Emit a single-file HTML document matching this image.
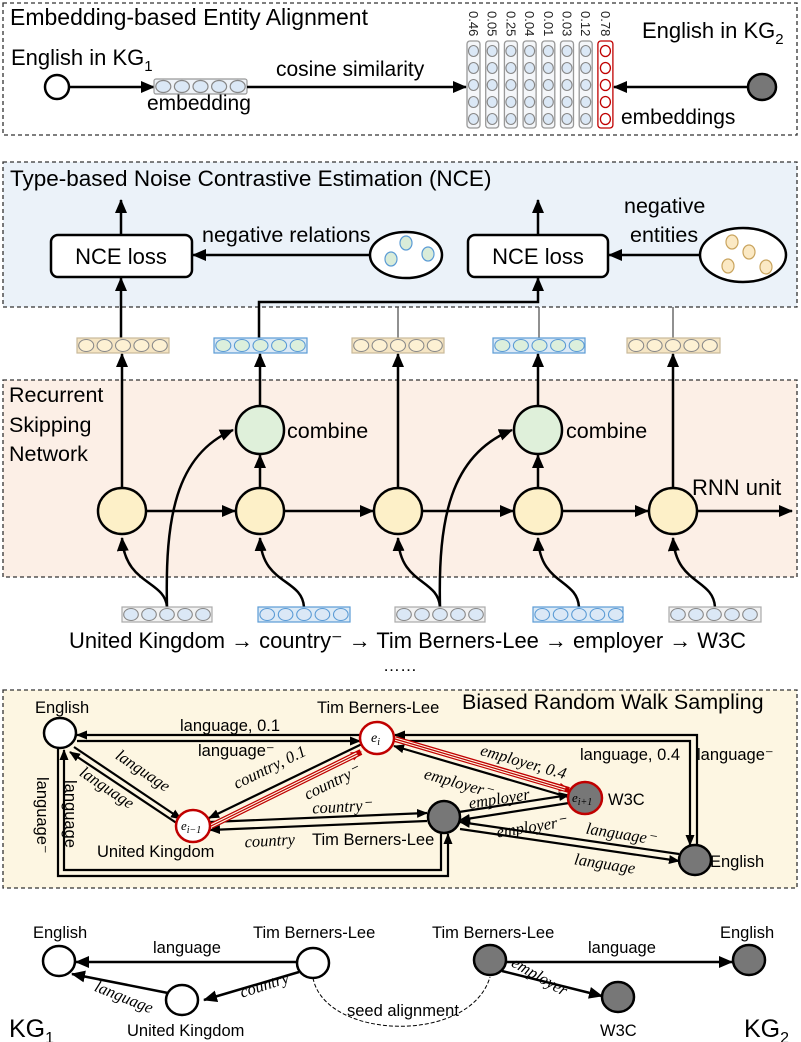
<!DOCTYPE html>
<html><head><meta charset="utf-8"><style>
html,body{margin:0;padding:0;background:#fff;}
svg{display:block;font-family:"Liberation Sans",sans-serif;}
.it{font-family:"Liberation Serif",serif;font-style:italic;}
</style></head><body>
<svg width="801" height="1042" viewBox="0 0 801 1042" xmlns="http://www.w3.org/2000/svg">
<defs>
<marker id="a" markerWidth="14" markerHeight="12" refX="13" refY="6" orient="auto" markerUnits="userSpaceOnUse"><path d="M0,0L14,6L0,12z" fill="#000"/></marker>
<marker id="s" markerWidth="11" markerHeight="9" refX="10" refY="4.5" orient="auto" markerUnits="userSpaceOnUse"><path d="M0,0L11,4.5L0,9z" fill="#000"/></marker>
<marker id="r" markerWidth="11" markerHeight="9" refX="10" refY="4.5" orient="auto" markerUnits="userSpaceOnUse"><path d="M0,0L11,4.5L0,9z" fill="#c00000"/></marker>
</defs>

<rect x="3" y="3" width="794" height="132" fill="#fff" stroke="#333" stroke-width="1.3" stroke-dasharray="4,3"/>
<text x="10" y="25" font-size="23">Embedding-based Entity Alignment</text>
<text x="11" y="65" font-size="22">English in KG<tspan font-size="15" dy="6">1</tspan></text>
<ellipse cx="57" cy="87" rx="12" ry="12" fill="#fff" stroke="#000" stroke-width="2.5"/>
<line x1="69" y1="87" x2="154" y2="87" stroke="#000" stroke-width="2.5" marker-end="url(#a)"/>
<rect x="154" y="79" width="93" height="15" rx="2" fill="#eef2f7" stroke="#999" stroke-width="1.2"/>
<g fill="#dbe8f6" stroke="#888" stroke-width="1.2">
<ellipse cx="163.3" cy="86.5" rx="7.5" ry="6"/><ellipse cx="181.9" cy="86.5" rx="7.5" ry="6"/><ellipse cx="200.5" cy="86.5" rx="7.5" ry="6"/><ellipse cx="219.1" cy="86.5" rx="7.5" ry="6"/><ellipse cx="237.7" cy="86.5" rx="7.5" ry="6"/>
</g>
<text x="147" y="110" font-size="21">embedding</text>
<line x1="247" y1="87" x2="466" y2="87" stroke="#000" stroke-width="2.5" marker-end="url(#a)"/>
<text x="276" y="76" font-size="21">cosine similarity</text>
<g stroke-width="1.3">
<g fill="#f4f6f9" stroke="#999">
<rect x="467" y="41" width="13" height="87" rx="3"/><rect x="485.7" y="41" width="13" height="87" rx="3"/><rect x="504.4" y="41" width="13" height="87" rx="3"/><rect x="523.1" y="41" width="13" height="87" rx="3"/><rect x="541.8" y="41" width="13" height="87" rx="3"/><rect x="560.5" y="41" width="13" height="87" rx="3"/><rect x="579.2" y="41" width="13" height="87" rx="3"/>
</g>
<rect x="597.9" y="41" width="15" height="87" rx="3" fill="#fff" stroke="#c00000"/>
</g>
<g id="colc" fill="#dbe8f6" stroke="#888" stroke-width="1.1">
<ellipse cx="473.5" cy="51" rx="5" ry="5.5"/><ellipse cx="473.5" cy="68" rx="5" ry="5.5"/><ellipse cx="473.5" cy="85" rx="5" ry="5.5"/><ellipse cx="473.5" cy="102" rx="5" ry="5.5"/><ellipse cx="473.5" cy="119" rx="5" ry="5.5"/>
</g>
<use href="#colc" x="18.7"/><use href="#colc" x="37.4"/><use href="#colc" x="56.1"/><use href="#colc" x="74.8"/><use href="#colc" x="93.5"/><use href="#colc" x="112.2"/>
<g fill="#fff" stroke="#c00000" stroke-width="1.3">
<ellipse cx="605.4" cy="51" rx="5" ry="5.5"/><ellipse cx="605.4" cy="68" rx="5" ry="5.5"/><ellipse cx="605.4" cy="85" rx="5" ry="5.5"/><ellipse cx="605.4" cy="102" rx="5" ry="5.5"/><ellipse cx="605.4" cy="119" rx="5" ry="5.5"/>
</g>
<g font-size="13" fill="#222">
<text transform="translate(469,11) rotate(90)">0.46</text>
<text transform="translate(487.7,11) rotate(90)">0.05</text>
<text transform="translate(506.4,11) rotate(90)">0.25</text>
<text transform="translate(525.1,11) rotate(90)">0.04</text>
<text transform="translate(543.8,11) rotate(90)">0.01</text>
<text transform="translate(562.5,11) rotate(90)">0.03</text>
<text transform="translate(581.2,11) rotate(90)">0.12</text>
<text transform="translate(600.9,11) rotate(90)">0.78</text>
</g>
<text x="642" y="38" font-size="22">English in KG<tspan font-size="15" dy="6">2</tspan></text>
<ellipse cx="762" cy="87" rx="14" ry="13" fill="#777" stroke="#000" stroke-width="2.5"/>
<line x1="748" y1="87" x2="614" y2="87" stroke="#000" stroke-width="2.5" marker-end="url(#a)"/>
<text x="621" y="124" font-size="21">embeddings</text>

<rect x="3" y="162" width="794" height="145" fill="#ebf2f9" stroke="#333" stroke-width="1.3" stroke-dasharray="4,3"/>
<text x="10" y="186" font-size="22.5">Type-based Noise Contrastive Estimation (NCE)</text>
<rect x="51" y="235" width="141" height="42" rx="7" fill="#fff" stroke="#000" stroke-width="2.5"/>
<text x="121" y="264" font-size="22" text-anchor="middle">NCE loss</text>
<rect x="468" y="235" width="140" height="42" rx="7" fill="#fff" stroke="#000" stroke-width="2.5"/>
<text x="538" y="264" font-size="22" text-anchor="middle">NCE loss</text>
<line x1="121" y1="235" x2="121" y2="200" stroke="#000" stroke-width="2.5" marker-end="url(#a)"/>
<line x1="538" y1="235" x2="538" y2="200" stroke="#000" stroke-width="2.5" marker-end="url(#a)"/>
<text x="202" y="242" font-size="21.5">negative relations</text>
<ellipse cx="406" cy="255" rx="36" ry="23" fill="#fff" stroke="#000" stroke-width="2.5"/>
<g fill="#d9ecd9" stroke="#5b9bd5" stroke-width="1.2"><ellipse cx="406" cy="243" rx="6" ry="7"/><ellipse cx="391" cy="259" rx="6" ry="7"/><ellipse cx="428" cy="254" rx="6" ry="7"/></g>
<line x1="370" y1="255" x2="193" y2="255" stroke="#000" stroke-width="2.5" marker-end="url(#a)"/>
<text x="624" y="213" font-size="21.5">negative</text>
<text x="630" y="242" font-size="21.5">entities</text>
<ellipse cx="743" cy="255" rx="43" ry="27" fill="#fff" stroke="#000" stroke-width="2.5"/>
<g fill="#fbe9c4" stroke="#c9a45e" stroke-width="1.2"><ellipse cx="732" cy="242" rx="6" ry="7"/><ellipse cx="749" cy="252" rx="6" ry="7"/><ellipse cx="728" cy="266" rx="6" ry="7"/><ellipse cx="766" cy="267" rx="6" ry="7"/></g>
<line x1="700" y1="255" x2="609" y2="255" stroke="#000" stroke-width="2.5" marker-end="url(#a)"/>
<line x1="121" y1="338" x2="121" y2="278" stroke="#000" stroke-width="2.5" marker-end="url(#a)"/>
<polyline points="259,338 259,302 538,302 538,278" fill="none" stroke="#000" stroke-width="2.5" marker-end="url(#a)"/>
<g stroke="#555" stroke-width="1.3"><line x1="398" y1="307" x2="398" y2="338"/><line x1="539" y1="307" x2="539" y2="338"/><line x1="673" y1="307" x2="673" y2="338"/></g>

<g stroke-width="1.2">
<rect x="77" y="338" width="92" height="15" fill="#f5e5c3" stroke="#c9b99a"/>
<rect x="214" y="338" width="93" height="15" fill="#dceaf6" stroke="#5b9bd5"/>
<rect x="352" y="338" width="92" height="15" fill="#f5e5c3" stroke="#c9b99a"/>
<rect x="493" y="338" width="92" height="15" fill="#dceaf6" stroke="#5b9bd5"/>
<rect x="627" y="338" width="93" height="15" fill="#f5e5c3" stroke="#c9b99a"/>
</g>
<g fill="#fdf1d3" stroke="#8a8a8a" stroke-width="1.1">
<g id="ov1"><ellipse cx="86.2" cy="345.5" rx="7.5" ry="6"/><ellipse cx="104.6" cy="345.5" rx="7.5" ry="6"/><ellipse cx="123" cy="345.5" rx="7.5" ry="6"/><ellipse cx="141.4" cy="345.5" rx="7.5" ry="6"/><ellipse cx="159.8" cy="345.5" rx="7.5" ry="6"/></g>
<use href="#ov1" x="275"/><use href="#ov1" x="550"/>
</g>
<g fill="#dcefdc" stroke="#5b9bd5" stroke-width="1.1">
<g id="ov2"><ellipse cx="223.3" cy="345.5" rx="7.5" ry="6"/><ellipse cx="241.9" cy="345.5" rx="7.5" ry="6"/><ellipse cx="260.5" cy="345.5" rx="7.5" ry="6"/><ellipse cx="279.1" cy="345.5" rx="7.5" ry="6"/><ellipse cx="297.7" cy="345.5" rx="7.5" ry="6"/></g>
<use href="#ov2" x="279"/>
</g>

<rect x="3" y="380" width="794" height="197" fill="#fcefe6" stroke="#333" stroke-width="1.3" stroke-dasharray="4,3"/>
<text x="9" y="402" font-size="21.5">Recurrent</text>
<text x="9" y="432" font-size="21.5">Skipping</text>
<text x="9" y="461" font-size="21.5">Network</text>
<g stroke="#000" stroke-width="2.5" fill="none">
<line x1="122" y1="488" x2="122" y2="354" marker-end="url(#a)"/>
<line x1="260" y1="406" x2="260" y2="354" marker-end="url(#a)"/>
<line x1="398" y1="488" x2="398" y2="354" marker-end="url(#a)"/>
<line x1="538" y1="406" x2="538" y2="354" marker-end="url(#a)"/>
<line x1="673" y1="488" x2="673" y2="354" marker-end="url(#a)"/>
<line x1="260" y1="488" x2="260" y2="455" marker-end="url(#a)"/>
<line x1="538" y1="488" x2="538" y2="455" marker-end="url(#a)"/>
<line x1="146" y1="511" x2="235" y2="511" marker-end="url(#a)"/>
<line x1="284" y1="511" x2="373" y2="511" marker-end="url(#a)"/>
<line x1="422" y1="511" x2="513" y2="511" marker-end="url(#a)"/>
<line x1="562" y1="511" x2="648" y2="511" marker-end="url(#a)"/>
<line x1="697" y1="511" x2="792" y2="511" marker-end="url(#a)"/>
<path d="M167,607 C165,580 125,585 122,538" marker-end="url(#a)"/>
<path d="M304,607 C302,578 262,585 260,538" marker-end="url(#a)"/>
<path d="M440,607 C438,578 400,585 398,538" marker-end="url(#a)"/>
<path d="M579,607 C577,578 540,585 538,538" marker-end="url(#a)"/>
<path d="M715,607 C713,578 676,585 673,538" marker-end="url(#a)"/>
<path d="M167,607 C165,520 175,455 233,430" marker-end="url(#a)"/>
<path d="M440,607 C438,520 450,455 512,430" marker-end="url(#a)"/>
</g>
<g fill="#fdf0c8" stroke="#000" stroke-width="2.5">
<ellipse cx="122" cy="511" rx="24" ry="23"/><ellipse cx="260" cy="511" rx="24" ry="23"/><ellipse cx="398" cy="511" rx="24" ry="23"/><ellipse cx="538" cy="511" rx="24" ry="23"/><ellipse cx="673" cy="511" rx="24" ry="23"/>
</g>
<g fill="#dff0da" stroke="#000" stroke-width="2.5">
<ellipse cx="260" cy="430" rx="24" ry="24"/><ellipse cx="538" cy="430" rx="24" ry="24"/>
</g>
<text x="287" y="438" font-size="21.5">combine</text>
<text x="566" y="438" font-size="21.5">combine</text>
<text x="692" y="495" font-size="22">RNN unit</text>

<g stroke-width="1.2">
<rect x="122" y="607" width="90" height="15" fill="#f2f2f2" stroke="#aaa"/>
<rect x="258" y="607" width="92" height="15" fill="#dceaf6" stroke="#5b9bd5"/>
<rect x="395" y="607" width="90" height="15" fill="#f2f2f2" stroke="#aaa"/>
<rect x="533" y="607" width="90" height="15" fill="#dceaf6" stroke="#5b9bd5"/>
<rect x="669" y="607" width="92" height="15" fill="#f2f2f2" stroke="#aaa"/>
</g>
<g fill="#dbe8f6" stroke="#888" stroke-width="1.1">
<g id="iv1"><ellipse cx="131" cy="614.5" rx="7.3" ry="6"/><ellipse cx="149" cy="614.5" rx="7.3" ry="6"/><ellipse cx="167" cy="614.5" rx="7.3" ry="6"/><ellipse cx="185" cy="614.5" rx="7.3" ry="6"/><ellipse cx="203" cy="614.5" rx="7.3" ry="6"/></g>
<use href="#iv1" x="273"/><use href="#iv1" x="547"/>
</g>
<g fill="#dbe8f6" stroke="#5b9bd5" stroke-width="1.1">
<g id="iv2"><ellipse cx="267.2" cy="614.5" rx="7.3" ry="6"/><ellipse cx="285.6" cy="614.5" rx="7.3" ry="6"/><ellipse cx="304" cy="614.5" rx="7.3" ry="6"/><ellipse cx="322.4" cy="614.5" rx="7.3" ry="6"/><ellipse cx="340.8" cy="614.5" rx="7.3" ry="6"/></g>
<use href="#iv2" x="275"/>
</g>
<text x="69" y="648" font-size="22.5" textLength="677" lengthAdjust="spacingAndGlyphs">United Kingdom → country⁻ → Tim Berners-Lee → employer → W3C</text>
<text x="400" y="671" font-size="17" text-anchor="middle">……</text>

<rect x="3" y="690" width="794" height="198" fill="#fdf6e2" stroke="#333" stroke-width="1.3" stroke-dasharray="4,3"/>
<text x="462" y="709" font-size="21.5">Biased Random Walk Sampling</text>
<g stroke="#000" stroke-width="2.2" fill="none">
<line x1="360" y1="735" x2="77" y2="735" marker-end="url(#s)"/>
<line x1="77" y1="741" x2="360" y2="741" marker-end="url(#s)"/>
<polyline points="697,846 697,735 395,735" marker-end="url(#s)"/>
<polyline points="395,741 690,741 690,845" marker-end="url(#s)"/>
<line x1="74" y1="747" x2="181" y2="819" marker-end="url(#s)"/>
<line x1="178" y1="824" x2="70" y2="752" marker-end="url(#s)"/>
<line x1="362" y1="744" x2="209" y2="818" marker-end="url(#s)"/>
<line x1="210" y1="822" x2="427" y2="813" marker-end="url(#s)"/>
<line x1="427" y1="821" x2="210" y2="830" marker-end="url(#s)"/>
<line x1="568" y1="797" x2="394" y2="746" marker-end="url(#s)"/>
<line x1="459" y1="812" x2="569" y2="795" marker-end="url(#s)"/>
<line x1="569" y1="803" x2="460" y2="820" marker-end="url(#s)"/>
<line x1="679" y1="854" x2="460" y2="822" marker-end="url(#s)"/>
<line x1="460" y1="829" x2="679" y2="861" marker-end="url(#s)"/>
<polyline points="58,748 58,876 448,876 448,834" marker-end="url(#s)"/>
<polyline points="441,834 441,870 64,870 64,750" marker-end="url(#s)"/>
</g>
<g fill="none">
<line x1="211" y1="826" x2="361" y2="752" stroke="#c00000" stroke-width="6" marker-end="url(#r)"/>
<line x1="211" y1="826" x2="357" y2="754" stroke="#fdf6e2" stroke-width="3.5"/>
<line x1="211" y1="826" x2="357" y2="754" stroke="#c00000" stroke-width="1.2"/>
<line x1="395" y1="739" x2="569" y2="790" stroke="#c00000" stroke-width="6" marker-end="url(#r)"/>
<line x1="395" y1="739" x2="565" y2="789" stroke="#fdf6e2" stroke-width="3.5"/>
<line x1="395" y1="739" x2="565" y2="789" stroke="#c00000" stroke-width="1.2"/>
</g>
<ellipse cx="60" cy="733" rx="16" ry="15" fill="#fff" stroke="#000" stroke-width="2.5"/>
<ellipse cx="377" cy="738" rx="17" ry="16" fill="#fff" stroke="#c00000" stroke-width="2.5"/>
<ellipse cx="193" cy="826" rx="17" ry="16" fill="#fff" stroke="#c00000" stroke-width="2.5"/>
<ellipse cx="444" cy="817" rx="16" ry="16" fill="#777" stroke="#000" stroke-width="2.5"/>
<ellipse cx="585" cy="798" rx="17" ry="16" fill="#777" stroke="#c00000" stroke-width="2.5"/>
<ellipse cx="695" cy="860" rx="16" ry="15" fill="#777" stroke="#000" stroke-width="2.5"/>
<text class="it" x="371" y="742" font-size="14">e<tspan font-size="10" dy="3">i</tspan></text>
<text class="it" x="181" y="830" font-size="13">e<tspan font-size="10" dy="3">i−1</tspan></text>
<text class="it" x="572" y="802" font-size="13">e<tspan font-size="10" dy="3">i+1</tspan></text>
<g font-size="16.5">
<text x="35" y="713">English</text>
<text x="317" y="713">Tim Berners-Lee</text>
<text x="97" y="857">United Kingdom</text>
<text x="312" y="845">Tim Berners-Lee</text>
<text x="608" y="805">W3C</text>
<text x="710" y="867">English</text>
<text x="180" y="731">language, 0.1</text>
<text x="198" y="756">language⁻</text>
<text x="580" y="760">language, 0.4</text>
<text x="697" y="760">language⁻</text>
<text transform="translate(65,780) rotate(90)">language</text>
<text transform="translate(37,777) rotate(90)">language⁻</text>
</g>
<g class="it" font-size="16.5" text-anchor="middle">
<text transform="translate(140,775) rotate(34)">language</text>
<text transform="translate(104,792) rotate(34)">language</text>
<text transform="translate(272,772) rotate(-26)">country, 0.1</text>
<text transform="translate(334,787) rotate(-26)">country⁻</text>
<text transform="translate(522,767) rotate(16)">employer, 0.4</text>
<text transform="translate(457,788) rotate(16)">employer⁻</text>
<text transform="translate(342,812) rotate(-3)">country⁻</text>
<text transform="translate(270,846) rotate(-3)">country</text>
<text transform="translate(500,804) rotate(-9)">employer</text>
<text transform="translate(532,832) rotate(-9)">employer⁻</text>
<text transform="translate(620,839) rotate(9)">language⁻</text>
<text transform="translate(604,869) rotate(9)">language</text>
</g>

<g stroke="#000" stroke-width="2.5" fill="none">
<line x1="297" y1="962" x2="76" y2="962" marker-end="url(#a)"/>
<line x1="168" y1="993" x2="72" y2="974" marker-end="url(#a)"/>
<line x1="299" y1="972" x2="204" y2="1000" marker-end="url(#a)"/>
<line x1="506" y1="962" x2="732" y2="962" marker-end="url(#a)"/>
<line x1="502" y1="971" x2="602" y2="996" marker-end="url(#a)"/>
</g>
<path d="M313,978 C325,1040 470,1045 490,977" fill="none" stroke="#000" stroke-width="1" stroke-dasharray="4,2"/>
<ellipse cx="59" cy="961" rx="16" ry="15" fill="#fff" stroke="#000" stroke-width="2.5"/>
<ellipse cx="313" cy="963" rx="16" ry="15" fill="#fff" stroke="#000" stroke-width="2.5"/>
<ellipse cx="182" cy="1000" rx="16" ry="15" fill="#fff" stroke="#000" stroke-width="2.5"/>
<ellipse cx="490" cy="960" rx="16" ry="15" fill="#777" stroke="#000" stroke-width="2.5"/>
<ellipse cx="749" cy="960" rx="16" ry="15" fill="#777" stroke="#000" stroke-width="2.5"/>
<ellipse cx="618" cy="997" rx="16" ry="15" fill="#777" stroke="#000" stroke-width="2.5"/>
<g font-size="16.5">
<text x="33" y="938">English</text>
<text x="253" y="938">Tim Berners-Lee</text>
<text x="127" y="1036">United Kingdom</text>
<text x="432" y="938">Tim Berners-Lee</text>
<text x="720" y="938">English</text>
<text x="600" y="1036">W3C</text>
<text x="153" y="953">language</text>
<text x="588" y="953">language</text>
<text x="347" y="1016">seed alignment</text>
</g>
<g class="it" font-size="16.5" text-anchor="middle">
<text transform="translate(122,1002) rotate(22)">language</text>
<text transform="translate(266,990) rotate(-18)">country</text>
<text transform="translate(537,981) rotate(30)">employer</text>
</g>
<text x="9" y="1037" font-size="25">KG<tspan font-size="16" dy="6">1</tspan></text>
<text x="744" y="1037" font-size="25">KG<tspan font-size="16" dy="6">2</tspan></text>
</svg>
</body></html>
